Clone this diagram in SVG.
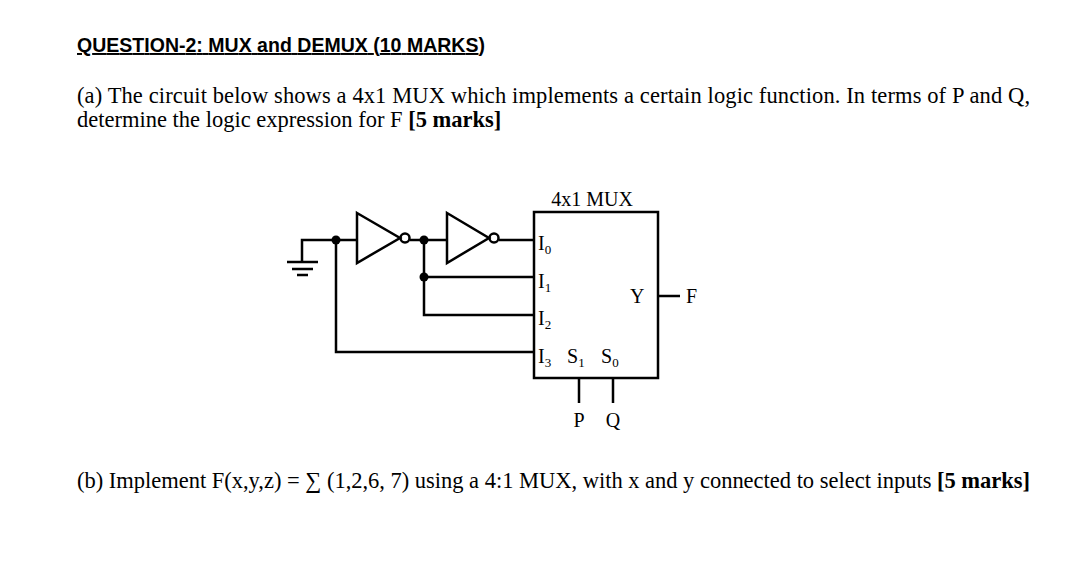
<svg xmlns="http://www.w3.org/2000/svg" width="1080" height="571" viewBox="0 0 1080 571">
<style>
.w{stroke:#000;stroke-width:2.5;fill:none}
.s{font-family:"Liberation Serif",serif;fill:#000}
.p{font-size:22.5px}
.l{font-size:20px}
</style>
<rect width="1080" height="571" fill="#fff"/>
<text x="77" y="52" font-family="Liberation Sans,sans-serif" font-weight="bold" font-size="19.5" text-decoration="underline" textLength="408">QUESTION-2: MUX and DEMUX (10 MARKS)</text>
<text class="s p" x="77" y="103" textLength="953">(a) The circuit below shows a 4x1 MUX which implements a certain logic function. In terms of P and Q,</text>
<text class="s p" x="77" y="127">determine the logic expression for F <tspan font-weight="bold">[5 marks]</tspan></text>
<text class="s p" x="77" y="488" textLength="953">(b) Implement F(x,y,z) = ∑ (1,2,6, 7) using a 4:1 MUX, with x and y connected to select inputs <tspan font-weight="bold">[5 marks]</tspan></text>
<g id="mux">
<rect class="w" x="534" y="212" width="124" height="166"/>
<text class="s l" x="592" y="206" text-anchor="middle">4x1 MUX</text>
<text class="s l" x="538" y="250">I<tspan font-size="13" dy="4">0</tspan></text>
<text class="s l" x="538" y="288">I<tspan font-size="13" dy="4">1</tspan></text>
<text class="s l" x="538" y="325">I<tspan font-size="13" dy="4">2</tspan></text>
<text class="s l" x="538" y="363">I<tspan font-size="13" dy="4">3</tspan></text>
<text class="s l" x="567" y="363">S<tspan font-size="13" dy="4">1</tspan></text>
<text class="s l" x="601" y="363">S<tspan font-size="13" dy="4">0</tspan></text>
<text class="s l" x="630" y="303">Y</text>
</g>
<g id="ground">
<path class="w" d="M302 262V240H336M287 262H318M292 269H313M297 275H308"/>
</g>
<g id="inv1">
<path class="w" d="M357 213L400 238L357 263Z"/>
<circle class="w" cx="405" cy="238" r="4.5"/>
</g>
<g id="inv2">
<path class="w" d="M447 213L489 238L447 263Z"/>
<circle class="w" cx="494" cy="238" r="4.5"/>
</g>
<g id="connectors">
<path class="w" d="M336 240H357M410 240H447M499 240H534M424 240V315H534M424 277H534M336 240V352H534M658 296H680M579 378V403M613 378V403"/>
<circle cx="336" cy="240" r="4.5"/>
<circle cx="424" cy="240" r="4.5"/>
<circle cx="424" cy="277" r="4.5"/>
</g>
<text class="s l" x="686" y="303">F</text>
<text class="s l" x="579" y="427" text-anchor="middle">P</text>
<text class="s l" x="613" y="427" text-anchor="middle">Q</text>
</svg>
